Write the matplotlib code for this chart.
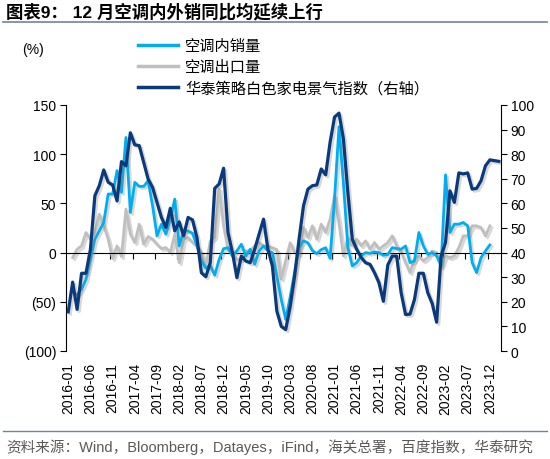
# -*- coding: utf-8 -*-

import numpy as np
import pandas as pd
import matplotlib
matplotlib.use('Agg')
import matplotlib.pyplot as plt
import matplotlib.patheffects as pe
from matplotlib.lines import Line2D
from matplotlib.ticker import FuncFormatter

plt.rcParams['font.family'] = ['Liberation Sans', 'Noto Sans CJK SC']
plt.rcParams['axes.unicode_minus'] = False

# monthly categories, 2016-01 .. 2024-02
months = pd.date_range('2016-01-01', periods=98, freq='MS').strftime('%Y-%m').tolist()

# 华泰策略白色家电景气指数 (right axis), 2016-01 .. 2024-02
index_vals = [15.9, 28, 16.9, 31.6, 31.6, 41.3, 63.1, 67.2, 73.6, 68.6,
              67.5, 61, 77, 75.3, 88.7, 83.8, 83.5, 76.7, 69.9, 66.5,
              60.4, 54.3, 50.2, 58, 48.8, 52.5, 46.8, 54.3, 53.3, 46.1,
              31.8, 30.2, 35.9, 66.1, 67.9, 74.3, 48.2, 40, 29.8, 38.6,
              36.6, 35.9, 41.3, 47.5, 53.6, 41.3, 34.5, 16.2, 10, 8.7,
              18.2, 30.4, 45.4, 59, 65.8, 67.2, 67.5, 74, 71.6, 84.9,
              95.1, 96.7, 86.2, 64.5, 45.4, 41.3, 38, 35.9, 35.2, 31.8,
              27.8, 20.2, 35, 38.6, 38.6, 23.7, 14.8, 15, 20.9, 31.6,
              31.6, 23.7, 19.3, 11.7, 38.6, 44.1, 65.1, 60.4, 72.4, 72,
              72.4, 65.8, 66.1, 69.2, 75.3, 77.7, 77.4, 77.1]

# 空调内销量 yoy (%), 2016-03 .. 2023-12
domestic = [-42.6, -37.4, -27.2, -6.8, 13.6, 22, 30.6, 59.5, 59.5, 83.3,
            61.2, 117, 40.8, 71.4, 67.3, 67.3, 73, 47.6, 17, 28.9,
            18.7, 34, 54.4, 6.8, 22, 22, 19.7, 6.8, -8, -16,
            -13, -23, -7, 4, 5, -3.4, 1.7, 8.5, -3.4, 3.4,
            -11.9, 1.7, 6.8, 1.7, 0, -24, -48, -68, -45, -20,
            5, 12, 10, 2, -1, 3, 5, -6, 55, 128,
            70, 5, -13.6, -10.2, -3.4, 0, -0.7, 0.7, 0, -2.7,
            -2, 5.1, 4.1, 3.4, 6.8, -10.2, -8.5, 20.4, 6.8, -1.7,
            0, -3.4, -13, 79, 20.4, 28.9, 28.9, 30.6, 27.2, -10.2,
            -20.4, -5.1, 1.7, 7.8]
domestic_start = 2

# 空调出口量 yoy (%), 2016-02 .. 2023-12
export = [-5.1, 3.4, 6.8, 20.4, 13.6, 20.4, 39, 27.2, 13.6, -6.1,
          6.8, -4.1, 44.2, 18.7, 10.2, 28.9, 8.5, 16.3, 13.6, 8.5,
          4.1, 5.1, 0, 18.7, -10.2, 13.6, 15.3, 10.2, 6.8, 0,
          -13.6, 11.9, 15.3, 64.6, 27, 3.4, -3.4, -6.8, -6.8, 1.7,
          1.7, 6.8, 10.2, 6.8, 6.8, 5, 3, -27, -8, 10,
          0, -2, 25.5, 15.3, 27.2, 13.6, 28.9, 20.4, 34, 57.8,
          30, -3.4, 15.3, 6.8, 13.6, 6.8, 11.9, 3.4, 10.2, 3.4,
          6.8, 10.2, 17, 6.8, 0, -10.2, -20.4, -6.8, -3.4, -8.5,
          -5, 1.7, 0, -15, -3.4, -5, -3.4, 5.1, 17, 17,
          27.2, 27.2, 25.5, 17, 27.2]
export_start = 1

legend_labels = ['空调内销量', '空调出口量', '华泰策略白色家电景气指数（右轴）']

LIGHT = '#00AEEF'
GRAY = '#BFBFBF'
DARK = '#0B3A7A'

shadow = [pe.SimpleLineShadow(offset=(1.5, -1.5), shadow_color='#808080', alpha=0.3),
          pe.Normal()]

fig = plt.figure(figsize=(5.5, 4.6), dpi=100)
ax = fig.add_axes([66/550, 1 - 352/460, 435/550, 246/460])

x_dom = np.arange(domestic_start, domestic_start + len(domestic))
x_exp = np.arange(export_start, export_start + len(export))
x_idx = np.arange(len(index_vals))

ax.plot(x_exp, export, color=GRAY, lw=2.0, zorder=2, path_effects=shadow)
ax.plot(x_dom, domestic, color=LIGHT, lw=2.0, zorder=3, path_effects=shadow)

ax2 = ax.twinx()
ax2.plot(x_idx, index_vals, color=DARK, lw=2.3, path_effects=shadow)

# left axis
ax.set_xlim(-0.5, len(months) - 0.5)
ax.set_ylim(-100, 150)
ax.set_yticks(range(-100, 151, 50))
ax.yaxis.set_major_formatter(FuncFormatter(
    lambda v, p: '(%d)' % abs(v) if v < 0 else '%d' % v))
ax.tick_params(axis='y', direction='out', length=4, labelsize=10, pad=3)
ax.spines['top'].set_visible(False)
ax.spines['right'].set_visible(False)
ax.spines['bottom'].set_position(('data', 0))

# category tick marks sit on the zero line, between categories
ax.set_xticks(np.arange(4.5, len(months) - 2, 5))
ax.tick_params(axis='x', direction='out', length=4, labelbottom=False)

# date labels at the bottom of the plot
sec = ax.secondary_xaxis('bottom')
sec.set_xticks(x_idx[::5][:20], labels=months[::5][:20])
sec.tick_params(length=0, pad=8, labelsize=10, labelrotation=90)
sec.spines['bottom'].set_visible(False)

# right axis
ax2.set_ylim(0, 100)
ax2.set_yticks(range(0, 101, 10))
ax2.tick_params(axis='y', direction='out', length=4, labelsize=10, pad=3)
for s in ['top', 'left', 'bottom']:
    ax2.spines[s].set_visible(False)

handles = [Line2D([], [], color=LIGHT, lw=2.5),
           Line2D([], [], color=GRAY, lw=2.5),
           Line2D([], [], color=DARK, lw=2.5)]
fig.legend(handles, legend_labels, loc='upper left',
           bbox_to_anchor=(138/550, 1 - 40/460), frameon=False,
           fontsize=11, handlelength=2.6, labelspacing=0.45,
           handletextpad=0.5, borderaxespad=0, borderpad=0)

fig.text(33/550, 1 - 50/460, '(%)', ha='center', va='center', fontsize=10)

# title and source
fig.text(6/550, 1 - 12/460, '图表9： 12 月空调内外销同比均延续上行',
         fontsize=12.5, fontweight='bold', va='center')
fig.add_artist(Line2D([0.005, 0.995], [1 - 23/460] * 2, color='#6F82A4', lw=1.2))
fig.add_artist(Line2D([0.005, 0.995], [1 - 432/460] * 2, color='#6F82A4', lw=1.0))
fig.text(6/550, 1 - 447/460,
         '资料来源：Wind，Bloomberg，Datayes，iFind，海关总署，百度指数，华泰研究',
         fontsize=10.5, color='#595959', va='center')

fig.savefig('out.png', dpi=100)
